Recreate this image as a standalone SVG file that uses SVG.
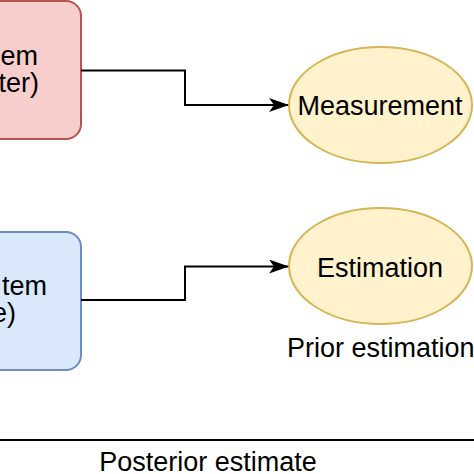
<svg xmlns="http://www.w3.org/2000/svg" width="474" height="474" viewBox="0 0 474 474">
<style>
text{font-family:"Liberation Sans",Arial,sans-serif;font-size:27px;fill:#000}
.red{fill:#f8cecc;stroke:#b85450;stroke-width:2}
.blue{fill:#dae8fc;stroke:#6c8ebf;stroke-width:2}
.yel{fill:#fff2cc;stroke:#d6b656;stroke-width:2}
.conn{fill:none;stroke:#000;stroke-width:2}
</style>
<defs>
<marker id="arr" viewBox="0 0 20 14" refX="19" refY="7" markerWidth="20" markerHeight="14" markerUnits="userSpaceOnUse" orient="auto">
<path d="M0,0 L20,7 L0,14 L5,7 Z" fill="#000"/>
</marker>
</defs>
<rect width="474" height="474" fill="#fff"/>
<g id="system-measurement">
<rect class="red" x="-120" y="1" width="201" height="138" rx="15" ry="15"/>
<text x="38" y="65" text-anchor="end">em</text>
<text x="39" y="92" text-anchor="end">ter)</text>
</g>
<g id="system-estimate">
<rect class="blue" x="-120" y="232" width="201" height="138" rx="15" ry="15"/>
<text x="47" y="295" text-anchor="end">tem</text>
<text x="16" y="322" text-anchor="end">e)</text>
</g>
<g id="measurement">
<ellipse class="yel" cx="380.5" cy="105" rx="91.5" ry="58"/>
<text x="380" y="115" text-anchor="middle">Measurement</text>
</g>
<g id="estimation">
<ellipse class="yel" cx="380.5" cy="266" rx="91.5" ry="58"/>
<text x="380" y="277" text-anchor="middle">Estimation</text>
</g>
<g id="connectors">
<path class="conn" d="M81,70.5 H185 V105 H288" marker-end="url(#arr)"/>
<path class="conn" d="M81,300 H185 V266.5 H288" marker-end="url(#arr)"/>
<line x1="0" y1="440" x2="474" y2="440" stroke="#000" stroke-width="2"/>
</g>
<g id="labels">
<text x="287" y="357">Prior estimation</text>
<text x="208" y="471" text-anchor="middle">Posterior estimate</text>
</g>
</svg>
